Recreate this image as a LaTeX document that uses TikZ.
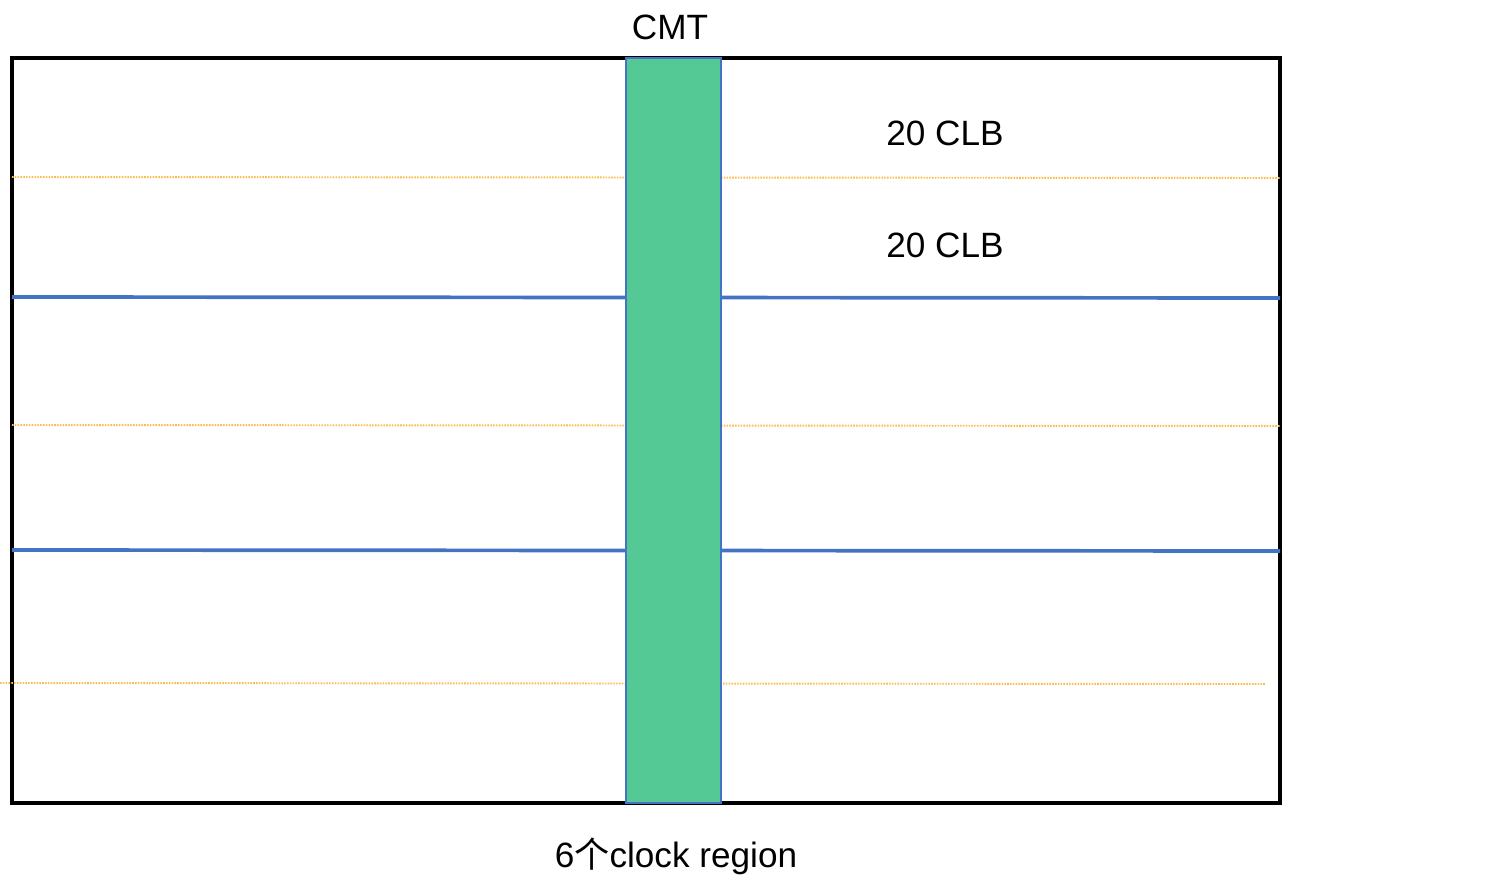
\documentclass[tikz,border=0pt]{standalone}
\usepackage{fontspec}
\setmainfont{Liberation Sans}
\newfontfamily\cjkfont{Noto Sans CJK SC}
\definecolor{cmtgreen}{RGB}{85,201,149}
\definecolor{edgeblue}{RGB}{68,114,196}
\definecolor{dotorange}{RGB}{250,190,80}
\usetikzlibrary{positioning}
\tikzset{
  chipframe/.style={draw=black,line width=1.1pt},
  regionline/.style={draw=edgeblue,line width=1.05pt},
  halfline/.style={draw=dotorange,line width=0.55pt,
                   dash pattern=on 0.45pt off 0.35pt},
  cmtbar/.style={fill=cmtgreen,draw=edgeblue,line width=0.6pt},
  lbl/.style={inner sep=0pt,anchor=base,font=\fontsize{10}{12}\selectfont},
}

\begin{document}
\begin{tikzpicture}[x=0.01cm,y=-0.01cm]
  \useasboundingbox (0,0) rectangle (1512,885);
  % die outline
  \draw[chipframe] (12,58) rectangle (1280,803);
  % half clock regions (dotted)
  \draw[halfline] (12,177) -- (1280,178);
  \draw[halfline] (12,425) -- (1280,426);
  \draw[halfline] (0,683) -- (1265,684);
  % clock region borders
  \draw[regionline] (12,297) -- (1280,298);
  \draw[regionline] (12,550) -- (1280,551);
  % CMT column
  \draw[cmtbar] (626,58) rectangle (721,803);
  \coordinate (bartop) at (670,40);
  \coordinate (barbot) at (676,867);
  \node[lbl] (cmt) at (bartop) {CMT};
  \node[lbl] (clbA) at (945,146) {20 CLB};
  \node[lbl] (clbB) at (945,258) {20 CLB};
  \node[lbl] (count) at (barbot) {6{\cjkfont 个}clock region};
\end{tikzpicture}
\end{document}
